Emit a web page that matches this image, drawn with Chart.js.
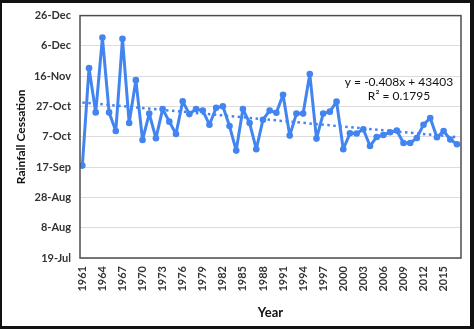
<!DOCTYPE html>
<html>
<head>
<meta charset="utf-8">
<script src="https://cdn.jsdelivr.net/npm/chart.js@4/dist/chart.umd.min.js"></script>
<style>
  html, body { margin: 0; padding: 0; background: #fff; }
  #wrap { position: relative; width: 474px; height: 329px; }
  #c { position: absolute; left: 0; top: 0; }
  #frame { position: absolute; left: 0; top: 0; width: 474px; height: 329px; box-sizing: border-box;
           border-style: solid; border-color: #111; border-width: 3px 4px 3px 2px; pointer-events: none; }
</style>
</head>
<body>
<div id="wrap">
  <canvas id="c" width="474" height="329"></canvas>
  <div id="frame"></div>
</div>
<script>
// Years of observation
const years = [1961,1962,1963,1964,1965,1966,1967,1968,1969,1970,
  1971,1972,1973,1974,1975,1976,1977,1978,1979,1980,
  1981,1982,1983,1984,1985,1986,1987,1988,1989,1990,
  1991,1992,1993,1994,1995,1996,1997,1998,1999,2000,
  2001,2002,2003,2004,2005,2006,2007,2008,2009,2010,
  2011,2012,2013,2014,2015,2016,2017];
// Rainfall cessation date as day of year (1 = 1 Jan, non-leap)
const cessationDay = [261,325.3,296.1,345.5,296.1,283.8,344.7,289.1,317.4,277.9,
  295.3,279,298.3,290,281.8,303.4,295,298.3,297.3,288,
  299.2,300.1,287.1,270.9,298.3,289.1,271.8,291.3,297.3,295.9,
  307.8,280.8,295.3,295.3,321.4,278.8,295.3,296.6,303.2,271.8,
  282.3,282.2,285,273.9,279.9,281.2,283,284.1,275.9,275.9,
  279.2,288,292.4,279.7,283.8,278.2,275.1];
// Linear trend line end points
const trendYears = [1961, 2017];
const trendDays = [302.7, 279.8];
// Y tick values (day of year) and their labels
const yTickValues = [200,220,240,260,280,300,320,340,360];
const yTickLabels = ['19-Jul','8-Aug','28-Aug','17-Sep','7-Oct','27-Oct','16-Nov','6-Dec','26-Dec'];
// X tick years
const xTickYears = [1961,1964,1967,1970,1973,1976,1979,1982,1985,1988,1991,1994,1997,2000,2003,2006,2009,2012,2015];
const eqLines = ['y = -0.408x + 43403', 'R² = 0.1795'];

const blue = '#4285f0';
const tickFont = { family: 'Lato', size: 11, weight: 'bold' };

const borderPlugin = {
  id: 'plotBorder',
  afterDraw(chart) {
    const { ctx, chartArea: a } = chart;
    ctx.save();
    ctx.strokeStyle = '#4d4d4d';
    ctx.lineWidth = 1.5;
    ctx.strokeRect(a.left, a.top, a.right - a.left, a.bottom - a.top);
    ctx.fillStyle = '#111';
    ctx.font = '12px Lato';
    ctx.textAlign = 'center';
    ctx.textBaseline = 'middle';
    const cx = a.right - 62;
    ctx.fillText(eqLines[0], cx, a.top + 67);
    ctx.fillText(eqLines[1], cx, a.top + 81);
    ctx.restore();
  }
};

new Chart(document.getElementById('c'), {
  type: 'line',
  data: {
    datasets: [
      {
        label: 'Cessation',
        data: years.map((y, i) => ({ x: y, y: cessationDay[i] })),
        borderColor: blue,
        backgroundColor: blue,
        borderWidth: 3,
        borderJoinStyle: 'round',
        borderCapStyle: 'round',
        pointRadius: 3.3,
        pointBorderWidth: 0,
        tension: 0,
        order: 1
      },
      {
        label: 'Trend',
        data: trendYears.map((y, i) => ({ x: y, y: trendDays[i] })),
        borderColor: blue,
        borderWidth: 2.5,
        borderDash: [2.5, 3.5],
        pointRadius: 0,
        fill: false,
        order: 2
      }
    ]
  },
  options: {
    responsive: false,
    animation: false,
    layout: { padding: { left: 0, right: 13, top: 15, bottom: 0 } },
    plugins: { legend: { display: false }, tooltip: { enabled: false } },
    scales: {
      x: {
        type: 'linear',
        min: 1960.65,
        max: 2017.6,
        afterFit(s) { s.height = 71; },
        afterBuildTicks(s) { s.ticks = xTickYears.map(v => ({ value: v })); },
        grid: { display: false, drawTicks: false },
        border: { display: false },
        ticks: {
          autoSkip: false,
          maxRotation: 90, minRotation: 90,
          padding: 8,
          color: '#333',
          font: tickFont,
          callback: v => String(v)
        },
        title: {
          display: true, text: 'Year', color: '#111',
          font: { family: 'Lato', size: 13, weight: 'bold' },
          padding: { top: 0, bottom: 8 }
        }
      },
      y: {
        min: 200, max: 360,
        afterFit(s) { s.width = 80; },
        afterBuildTicks(s) { s.ticks = yTickValues.map(v => ({ value: v })); },
        grid: { color: '#dcdcdc', lineWidth: 1, drawTicks: false },
        border: { display: false },
        ticks: {
          padding: 9,
          color: '#333',
          font: tickFont,
          callback: v => yTickLabels[yTickValues.indexOf(v)]
        },
        title: {
          display: true, text: 'Rainfall Cessation', color: '#111',
          font: { family: 'Lato', size: 12, weight: 'bold' },
          padding: { top: 14, bottom: 0 }
        }
      }
    }
  },
  plugins: [borderPlugin]
});
</script>
</body>
</html>
